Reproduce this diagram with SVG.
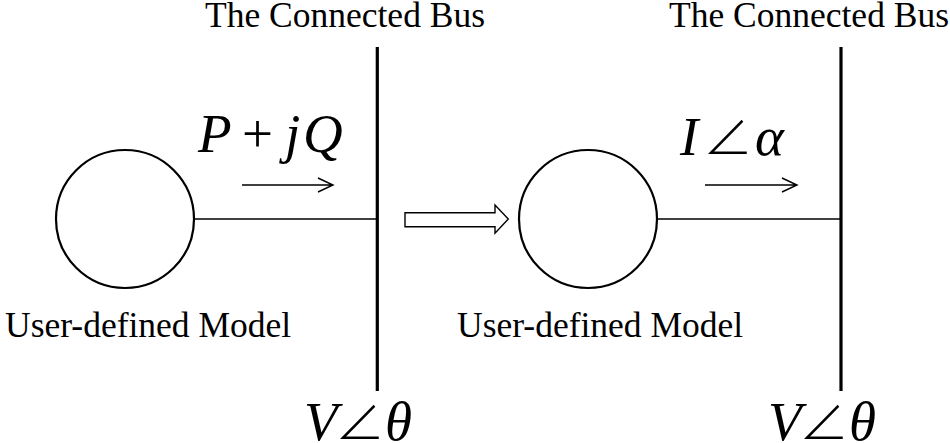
<svg xmlns="http://www.w3.org/2000/svg" width="950" height="443" viewBox="0 0 950 443">
<style>
.lbl{font-family:'Liberation Serif','Times New Roman',Times,'DejaVu Serif',serif;font-size:35.5px;fill:#000}
.math{font-family:'Liberation Serif','Times New Roman',Times,'DejaVu Serif',serif;font-size:55px;font-style:italic;fill:#000}
.ang{font-family:'Noto Sans CJK JP','DejaVu Serif',sans-serif;font-size:50px;font-style:normal;font-weight:300;fill:#000}
.up{font-style:normal}
.node{fill:#fff;stroke:#000;stroke-width:2.2}
.bus{stroke:#000;stroke-width:3.2;fill:none}
.wire{stroke:#000;stroke-width:1.6;fill:none}
.flow{stroke:#000;stroke-width:1.4;fill:none}
</style>
<rect width="950" height="443" fill="#fff"/>
<g id="connectors">
<line class="wire" x1="194" y1="219" x2="377" y2="219"/>
<line class="wire" x1="657" y1="219" x2="841" y2="219"/>
<path class="flow" d="M242,185 H333 M318,178 L333,185 L318,192"/>
<path class="flow" d="M705,185 H797 M782,178 L797,185 L782,192"/>
<path fill="#fff" stroke="#000" stroke-width="1.4" d="M405,212.7 H495 V205 L508.3,219 L495,233.3 V226.7 H405 Z"/>
</g>
<g id="bus-left">
<line class="bus" x1="377.3" y1="47" x2="377.3" y2="391"/>
<text class="lbl" x="205" y="27">The Connected Bus</text>
<text class="math" y="440"><tspan x="304">V</tspan><tspan class="ang" x="335">∠</tspan><tspan x="385">θ</tspan></text>
</g>
<g id="bus-right">
<line class="bus" x1="841" y1="47" x2="841" y2="391"/>
<text class="lbl" x="669" y="27">The Connected Bus</text>
<text class="math" y="440"><tspan x="768">V</tspan><tspan class="ang" x="799">∠</tspan><tspan x="849">θ</tspan></text>
</g>
<g id="model-left">
<circle class="node" cx="125" cy="219" r="69"/>
<text class="lbl" x="5" y="337">User-defined Model</text>
</g>
<g id="model-right">
<circle class="node" cx="588" cy="219" r="69"/>
<text class="lbl" x="457" y="337">User-defined Model</text>
</g>
<g id="label-pq">
<text class="math" y="152"><tspan x="198">P</tspan><tspan class="up" x="242">+</tspan><tspan x="285">j</tspan><tspan x="303">Q</tspan></text>
</g>
<g id="label-ia">
<text class="math" y="155"><tspan x="680">I</tspan><tspan class="ang" x="703">∠</tspan><tspan x="755">α</tspan></text>
</g>
</svg>
